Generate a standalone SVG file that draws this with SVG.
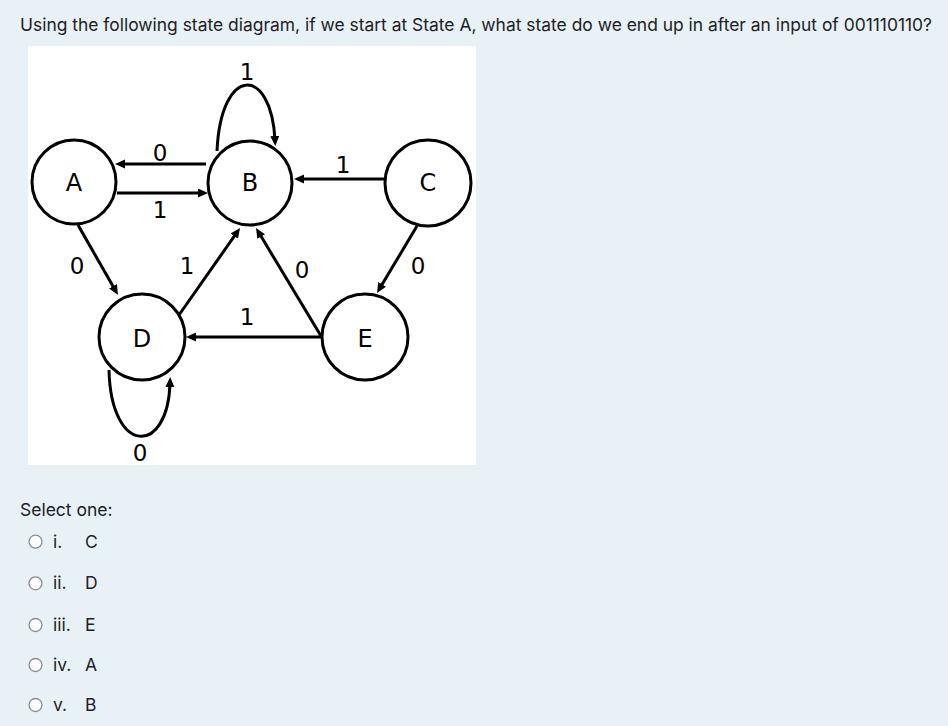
<svg xmlns="http://www.w3.org/2000/svg" width="948" height="726" viewBox="0 0 948 726">
<defs>
<style>
.q{font-family:Inter,"Liberation Sans",sans-serif;font-size:17.5px;fill:#1d2125}
.nd{fill:#fff;stroke:#000;stroke-width:3}
.nl{font-family:"DejaVu Sans","Liberation Sans",sans-serif;font-size:24px;fill:#000;text-anchor:middle}
.el{font-family:"DejaVu Sans","Liberation Sans",sans-serif;font-size:23px;fill:#000;text-anchor:middle}
.ed{fill:none;stroke:#000;stroke-width:3;marker-end:url(#ah)}
.rb{fill:#fff;stroke:#8a8d90;stroke-width:1.3}
</style>
<marker id="ah" markerUnits="userSpaceOnUse" markerWidth="12" markerHeight="10" refX="4" refY="4.5" orient="auto">
<path d="M0,0 L10,4.5 L0,9 z" fill="#000"/>
</marker>
</defs>
<rect width="948" height="726" fill="#e8f1f5"/>
<text class="q" x="20" y="30.5" textLength="912" lengthAdjust="spacingAndGlyphs">Using the following state diagram, if we start at State A, what state do we end up in after an input of 001110110?</text>
<rect x="28" y="46" width="448" height="419" fill="#fff"/>
<g id="connectors">
<path class="ed" d="M206,164 L121,164"/>
<path class="ed" d="M117,193 L202,193"/>
<path class="ed" d="M385,179 L300,179"/>
<path class="ed" d="M321,337 L192,337"/>
<path class="ed" d="M78,225 L115,289.8"/>
<path class="ed" d="M179,315 L236.6,232.9"/>
<path class="ed" d="M321,336 L259.1,233.1"/>
<path class="ed" d="M417,226 L380.1,287.8"/>
<path class="ed" d="M217,151 C221,65 271,65 275,140"/>
<path class="ed" d="M109,370 C111,456 168,456 170,383"/>
<text class="el" x="160" y="161">0</text>
<text class="el" x="160" y="218">1</text>
<text class="el" x="247" y="80">1</text>
<text class="el" x="343" y="173">1</text>
<text class="el" x="77" y="274">0</text>
<text class="el" x="187" y="274">1</text>
<text class="el" x="302" y="278">0</text>
<text class="el" x="418" y="274">0</text>
<text class="el" x="247" y="325">1</text>
<text class="el" x="140" y="461">0</text>
</g>
<g id="A"><circle class="nd" cx="74" cy="182" r="42"/><text class="nl" x="74" y="191">A</text></g>
<g id="B"><circle class="nd" cx="250" cy="183" r="42"/><text class="nl" x="250" y="191">B</text></g>
<g id="C"><circle class="nd" cx="428" cy="183" r="43"/><text class="nl" x="428" y="191">C</text></g>
<g id="D"><circle class="nd" cx="142" cy="337" r="43"/><text class="nl" x="142" y="347">D</text></g>
<g id="E"><circle class="nd" cx="365" cy="337" r="43"/><text class="nl" x="365" y="347">E</text></g>
<g id="options">
<text class="q" x="20" y="516">Select one:</text>
<circle class="rb" cx="35.5" cy="541.7" r="6.5"/><text class="q" x="53" y="547.5">i.</text><text class="q" x="85" y="547.5">C</text>
<circle class="rb" cx="35.5" cy="583.3" r="6.5"/><text class="q" x="53" y="589">ii.</text><text class="q" x="85" y="589">D</text>
<circle class="rb" cx="35.5" cy="625" r="6.5"/><text class="q" x="53" y="630.5">iii.</text><text class="q" x="85" y="630.5">E</text>
<circle class="rb" cx="35.5" cy="665" r="6.5"/><text class="q" x="53" y="670.5">iv.</text><text class="q" x="85" y="670.5">A</text>
<circle class="rb" cx="35.5" cy="705" r="6.5"/><text class="q" x="53" y="710.5">v.</text><text class="q" x="85" y="710.5">B</text>
</g>
</svg>
